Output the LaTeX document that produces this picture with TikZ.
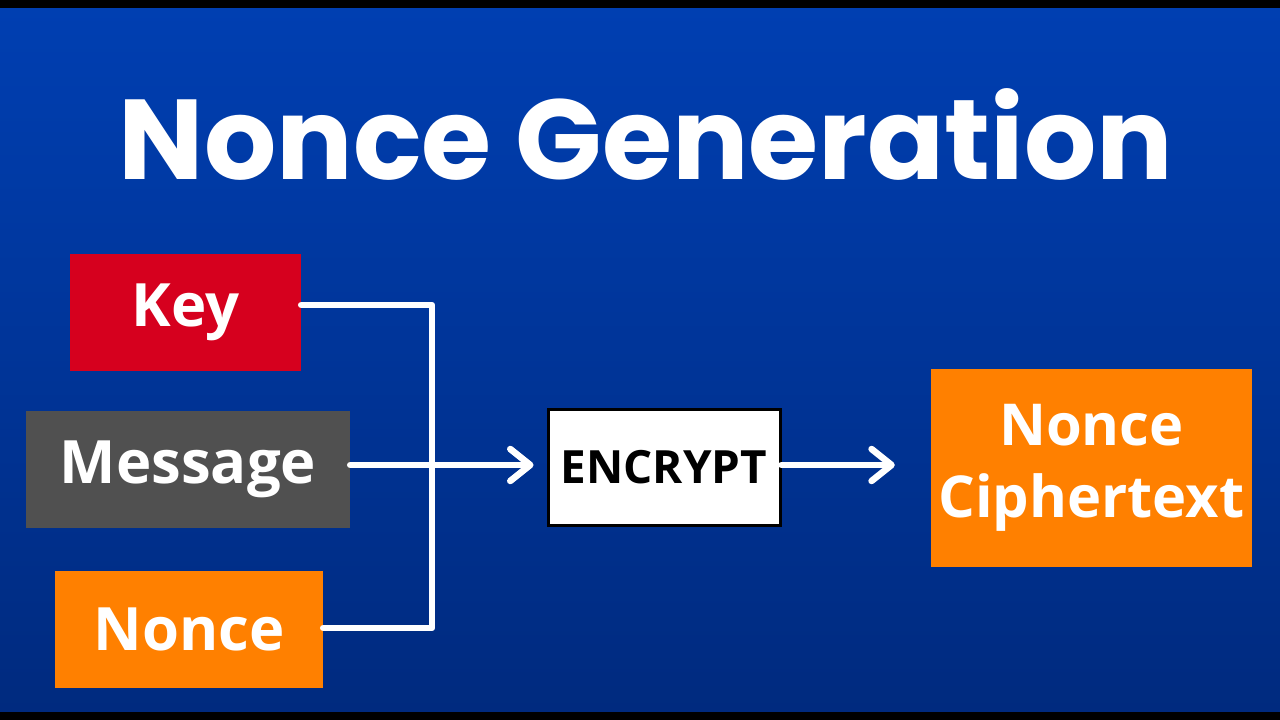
\documentclass[tikz,border=0pt]{standalone}
\usepackage{fontspec}
\setmainfont{Poppins}
\newfontfamily\boxfont{Open Sans}
\usetikzlibrary{arrows.meta}
\definecolor{bgtop}{RGB}{0,63,178}
\definecolor{bgbot}{RGB}{0,42,126}
\definecolor{keyred}{RGB}{214,0,30}
\definecolor{msggray}{RGB}{80,80,80}
\definecolor{nonceorange}{RGB}{255,128,0}
\begin{document}
\begin{tikzpicture}[x=1bp,y=-1bp,
  box/.style={inner sep=0pt,align=center,text=white,font=\boxfont\bfseries\fontsize{60}{66}\selectfont},
  wire/.style={white,line width=6.5bp,line join=round,line cap=round},
  arr/.style={wire,-{Straight Barb[length=20bp,width=32bp,line cap=round,round]}}]
\useasboundingbox (0,0) rectangle (1280,720);
\shade[top color=bgtop,bottom color=bgbot] (0,0) rectangle (1280,720);
\fill[black] (0,0) rectangle (1280,8);
\fill[black] (0,712) rectangle (1280,720);
\node (title) at (646,134) {\bfseries\fontsize{114}{120}\selectfont\color{white}Nonce Generation};

\node[box,fill=keyred,minimum width=231bp,minimum height=117bp] (key) at (185.5,312.5) {Key};
\node[box,fill=msggray,minimum width=324bp,minimum height=117bp] (msg) at (188,469.5) {Message};
\node[box,fill=nonceorange,minimum width=268bp,minimum height=117bp] (nonce) at (189,629.5) {Nonce};
\node[box,fill=white,draw=black,line width=3bp,text=black,font=\boxfont\bfseries\fontsize{46}{50}\selectfont,
  minimum width=232bp,minimum height=116bp] (enc) at (664,467) {ENCRYPT};
\node[box,fill=nonceorange,minimum width=321bp,minimum height=198bp,font=\boxfont\bfseries\fontsize{58}{72}\selectfont] (out) at (1091.5,468) {Nonce\\Ciphertext};

\coordinate (bustop) at (432,305);
\coordinate (busbot) at (432,628);
\coordinate (mline) at (0,465);
\draw[wire] (key.east |- bustop) -- (bustop) -- (busbot) -- (nonce.east |- busbot);
\draw[arr] (msg.east |- mline) -- ([xshift=-13bp]enc.west |- mline);
\draw[arr] (enc.east |- mline) -- ([xshift=-36bp]out.west |- mline);
\end{tikzpicture}
\end{document}
